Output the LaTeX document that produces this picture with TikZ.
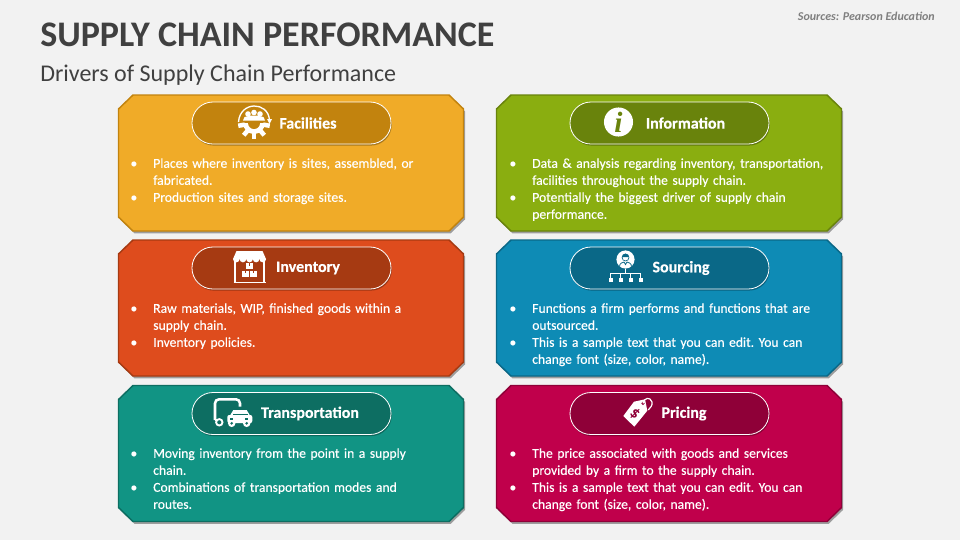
\documentclass[tikz,border=0pt]{standalone}
\usepackage{fontspec}
\setmainfont{Carlito}
\newfontfamily\bodyfont[FakeBold=.3]{Carlito}
\newfontfamily\headfont[BoldFeatures={FakeBold=.4}]{Carlito}
\usetikzlibrary{shadows}
\definecolor{pagebg}{HTML}{F2F2F2}
\definecolor{titlegray}{HTML}{404040}
\definecolor{srcgray}{HTML}{7F7F7F}
\definecolor{yelfill}{HTML}{F0AB28}\definecolor{yeldark}{HTML}{C2830E}
\definecolor{redfill}{HTML}{DE4C1D}\definecolor{reddark}{HTML}{A63A12}
\definecolor{teafill}{HTML}{119484}\definecolor{teadark}{HTML}{0D6E62}
\definecolor{grefill}{HTML}{8AAE10}\definecolor{gredark}{HTML}{69830C}
\definecolor{blufill}{HTML}{0E8BB5}\definecolor{bludark}{HTML}{0A6887}
\definecolor{crifill}{HTML}{C0004B}\definecolor{cridark}{HTML}{8F0038}
\newcommand{\bodylist}[1]{\frenchspacing\begin{list}{\textbullet}{\setlength{\itemsep}{0pt}\setlength{\parsep}{0pt}\setlength{\topsep}{0pt}\setlength{\partopsep}{0pt}\setlength{\leftmargin}{17.25pt}\setlength{\labelsep}{12pt}\setlength{\labelwidth}{6pt}}#1\end{list}}
\begin{document}
\begin{tikzpicture}[
x=.75pt, y=-.75pt,
 card/.style = {line width=1.1pt, line join=miter,
                general shadow={shadow xshift=1.2pt, shadow yshift=-1.8pt, opacity=.35, fill=black}},
 pill/.style = {draw=white, line width=.6pt, rounded corners=15.7pt,
                general shadow={shadow xshift=.6pt, shadow yshift=-1.2pt, opacity=.3, fill=black}},
 head/.style = {text=white, font=\headfont\fontsize{12pt}{14pt}\selectfont\bfseries, inner sep=0pt},
 body/.style = {text=white, text width=250pt, align=left, anchor=north west, inner sep=0pt,
                font=\bodyfont\fontsize{10.2pt}{12.75pt}\selectfont},
 icon/.style = {draw=white, line width=1pt, fill=none},
                        ]
\useasboundingbox (0,0) rectangle (960,540);
\fill[pagebg] (0,0) rectangle (960,540);
\node (title) [anchor=west, inner sep=0pt, text=titlegray, font=\fontsize{27pt}{32pt}\selectfont\bfseries] at (40,35) {SUPPLY CHAIN PERFORMANCE};
\node (subtitle) [anchor=west, inner sep=0pt, text=titlegray, font=\fontsize{18pt}{22pt}\selectfont] at (40,75) {Drivers of Supply Chain Performance};
\node (sources) [anchor=east, inner sep=0pt, text=srcgray, font=\fontsize{9pt}{11pt}\selectfont\bfseries\itshape] at (935,16) {Sources: Pearson Education};
% cards and their pills
\foreach \n/\x/\y/\c in {fac/291/163/yel,inv/291/308/red,tra/291/453.5/tea,
                         inf/669/163/gre,sou/669/308/blu,pri/669/453.5/cri}{
    \draw[card, draw=\c dark, fill=\c fill] (\x-172.5,\y-54) -- (\x-158,\y-68) -- (\x+158,\y-68) -- (\x+172.5,\y-54)
        -- (\x+172.5,\y+54) -- (\x+158,\y+68) -- (\x-158,\y+68) -- (\x-172.5,\y+54) -- cycle;
    \draw[pill, fill=\c dark] (\x-99,\y-61) rectangle (\x+100,\y-19);
}
\node[head] (fac-head) at (308,123) {Facilities};
\node[head] (inv-head) at (308,268) {Inventory};
\node[head] (tra-head) at (310,413.5) {Transportation};
\node[head] (inf-head) at (685.5,123) {Information};
\node[head] (sou-head) at (681,268) {Sourcing};
\node[head] (pri-head) at (684,413.5) {Pricing};
% body text
\node[body] (fac-text) at (130,150.5) {\bodylist{\item Places where inventory is sites, assembled, or\\fabricated.\item Production sites and storage sites.}};
\node[body] (inv-text) at (130,295.5) {\bodylist{\item Raw materials, WIP, finished goods within a\\supply chain.\item Inventory policies.}};
\node[body] (tra-text) at (130,440.5) {\bodylist{\item Moving inventory from the point in a supply\\chain.\item Combinations of transportation modes and\\routes.}};
\node[body] (inf-text) at (509,150.5) {\bodylist{\item Data \& analysis regarding inventory, transportation,\\facilities throughout the supply chain.\item Potentially the biggest driver of supply chain\\performance.}};
\node[body] (sou-text) at (509,295.5) {\bodylist{\item Functions a firm performs and functions that are\\outsourced.\item This is a sample text that you can edit. You can\\change font (size, color, name).}};
\node[body] (pri-text) at (509,440.5) {\bodylist{\item The price associated with goods and services\\provided by a firm to the supply chain.\item This is a sample text that you can edit. You can\\change font (size, color, name).}};
% facilities icon
\begin{scope}[shift={(254,122)}]
\fill[white] (-11,1) arc (180:360:8.25pt) -- cycle;
\foreach \a in {190,230,270,310,350} \draw[white, line width=3.4pt] (0,1) ++(\a:7pt) -- ++(\a:5pt);
\fill[yeldark] (-6,1) arc (180:360:4.5pt) -- cycle;
\foreach \i/\j in {-6/-8,0/-9.5,6/-8} \fill[white] (\i,\j) circle (2.1pt);
\fill[white] (-11,-1.5) -- (-9.5,-5) -- (-3,-6.5) -- (3,-6.5) -- (9.5,-5) -- (11,-1.5) -- cycle;
\draw[icon] (-15.5,0) .. controls (-14,-21) and (14,-21) .. (15.5,-2);
\fill[white] (13,-3) -- (18,-3) -- (15.5,2) -- cycle;
\end{scope}
% inventory icon
\begin{scope}[shift={(249.5,267)}]
\draw[icon] (-14.5,-7) -- (-14.5,15.5) (14.5,-7) -- (14.5,15.5);
\draw[icon, line width=1.3pt] (-16,15.5) -- (16,15.5);
\fill[white] (-13,-16) -- (13,-16) -- (16.5,-8) -- (-16.5,-8) -- cycle;
\foreach \i in {-13.2,-6.6,0,6.6,13.2} \fill[white] (\i-3.3,-8) arc (180:360:2.5pt) -- cycle;
\foreach \i/\j in {0/-1,-4/6.5,4/6.5} {\fill[white] (\i-3.3,\j-3) rectangle (\i+3.3,\j+3); \fill[reddark] (\i-.7,\j-3) rectangle (\i+.7,\j-.5);}
\end{scope}
% transportation icon
\begin{scope}[shift={(232,413)}]
\draw[icon, line width=1.9pt, rounded corners=3pt] (-17,7) -- (-17,-13.7) -- (8,-13.7) -- (8,-6.3);
\draw[icon, line width=1.9pt] (-17,7) -- (-10,7);
\draw[icon, line width=1.4pt, fill=teadark] (-12.7,9.3) circle (2.4pt);
\fill[white] (1.3,-3) -- (14.7,-3) -- (18,2.5) -- (-2,2.5) -- cycle;
\fill[white, rounded corners=1.5pt] (-4.7,2) rectangle (20.3,10);
\fill[teadark] (.5,.6) rectangle (15.5,1.6);
\foreach \i in {-.3,14.7} {\fill[white] (\i,10.3) circle (2.8pt); \fill[teadark] (\i,10.3) circle (1.1pt); \fill[teadark] (\i-1.5,4.8) rectangle (\i+1.5,6.8);}
\end{scope}
% information icon
\fill[white] (618.5,122) circle (10.9pt);
\node (inf-icon) [inner sep=0pt, text=gredark, font=\fontspec{Liberation Serif}\fontsize{22pt}{22pt}\selectfont\bfseries\itshape] at (618.5,122) {i};
% sourcing icon
\begin{scope}[shift={(625.5,267)}]
\fill[white] (0,-7.5) circle (6.8pt);
\draw[bludark, line width=.5pt] (0,-9.5) circle (2.6pt);
\fill[bludark] (-3.4,-10) arc (180:0:2.55pt) -- cycle;
\draw[bludark, line width=.6pt] (-6,-.5) .. controls (-6,-4) and (-3,-4.5) .. (-1.5,-5) -- (0,-2.5) -- (1.5,-5) .. controls (3,-4.5) and (6,-4) .. (6,-.5);
\draw[white, line width=.7pt] (0,1.5) -- (0,6.3) (-15,6.3) -- (15,6.3);
\foreach \i in {-15,-5,5,15} {\draw[white, line width=.7pt] (\i,6.3) -- (\i,12); \fill[white] (\i-2,11) rectangle (\i+2,15);}
\end{scope}
% pricing icon
\begin{scope}[shift={(637,413)}]
\fill[white] (-13.7,3) -- (-2.7,13.7) -- (10.3,-2.3) -- (8,-13.7) -- (-3,-11.3) -- cycle;
\fill[cridark] (6,-9.7) circle (1.3pt);
\draw[white, line width=.9pt] (6,-9.7) .. controls (7,-15) and (13,-17) .. (15,-11) .. controls (16,-8) and (13,-5) .. (11.3,-3);
\node (pri-icon) [inner sep=0pt, rotate=-40, text=cridark, font=\fontsize{12pt}{12pt}\selectfont\bfseries] at (-2,1) {\$};
\end{scope}
\end{tikzpicture}
\end{document}
